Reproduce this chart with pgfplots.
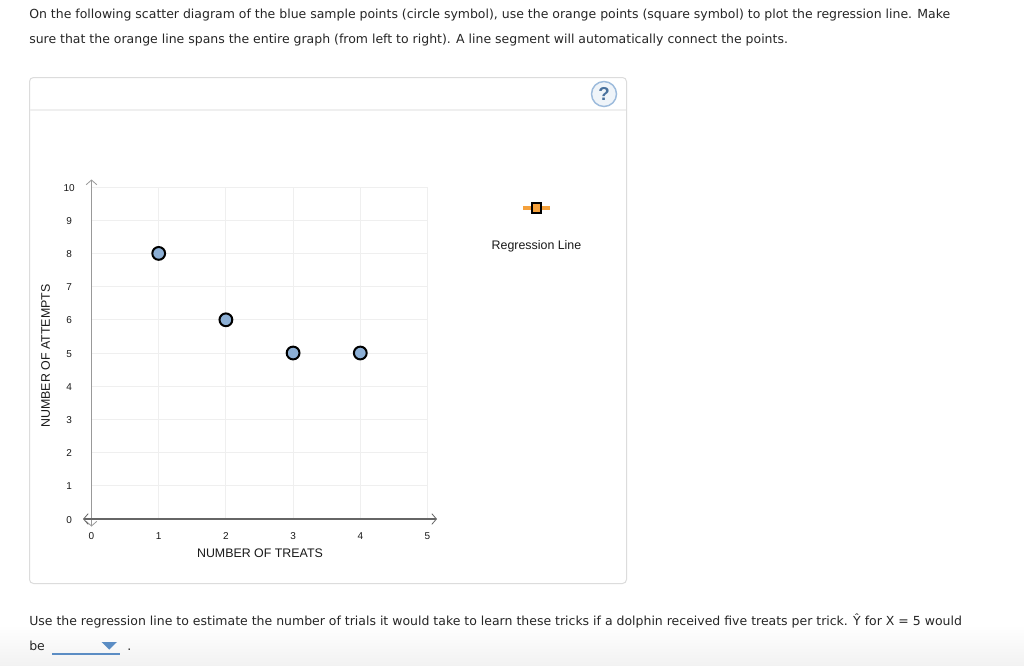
\documentclass[border=0pt]{standalone}
\usepackage{fontspec}
\setmainfont{Liberation Sans}
\newfontfamily\qfont{DejaVu Sans}
\usepackage{pgfplots}
\pgfplotsset{compat=1.18}
\usetikzlibrary{arrows.meta}
\definecolor{panelborder}{HTML}{DCDCDC}
\definecolor{gridgray}{HTML}{EFEFEF}
\definecolor{ptblue}{HTML}{8CAFD5}
\definecolor{regorange}{HTML}{F5A13C}
\definecolor{linkblue}{HTML}{5B8DC4}
\begin{document}
\begin{tikzpicture}[x=0.75pt,y=-0.75pt]
% page in reference pixels
\path[fill=white] (0,0) rectangle (1024,665);
\shade[top color=white,bottom color=black!5] (0,625) rectangle (1024,665);
\draw[panelborder,line width=0.75pt,rounded corners=3pt] (29.5,77.5) rectangle (626.5,583.5);
\draw[gridgray,line width=1pt] (30,110) -- (626,110);
\coordinate (plotorigin) at (91.5,519);
\coordinate (legendsample) at (523,208);

\tikzset{
  qtext/.style={anchor=base west,inner sep=0pt,font=\qfont\fontsize{9.36}{11}\selectfont,text=black!85},
  barb/.style={line width=#1,{Straight Barb[length=3.5pt,width=8pt,line width=0.6pt]}-{Straight Barb[length=3.5pt,width=8pt,line width=0.6pt]}}
}
\node[qtext] at (29,18) {On the following scatter diagram of the blue sample points (circle symbol), use the orange points (square symbol) to plot the regression line. Make};
\node[qtext] at (29,43) {sure that the orange line spans the entire graph (from left to right). A line segment will automatically connect the points.};
\node[qtext] at (29,625) {Use the regression line to estimate the number of trials it would take to learn these tricks if a dolphin received five treats per trick. Ŷ for X = 5 would};
\node[qtext] at (29,650) {be};
\node[qtext] at (127,650) {.};
\draw[linkblue,line width=1pt] (52,654) -- (120,654);
\fill[linkblue] (101.5,642) -- (117,642) -- (109.25,649.5) -- cycle;

% help icon
\draw[linkblue!60,fill=linkblue!10,line width=1.1pt] (604,94) circle[radius=12.5];
\node[font=\fontsize{14}{14}\selectfont\bfseries,text=linkblue!80!black] at (604,94) {?};

\begin{axis}[
    at={(plotorigin)},
    anchor=south west,
    scale only axis,
    width=252pt,
    height=249pt,
    xmin=0, xmax=5,
    ymin=0, ymax=10,
    xtick={0,1,2,3,4,5},
    ytick={0,1,2,3,4,5,6,7,8,9,10},
    grid=major,
    grid style={gridgray,line width=0.75pt},
    axis line style={draw=none},
    major tick length=0pt,
    clip=false,
    /pgf/number format/assume math mode=true,
    tick label style={font=\fontsize{7.5}{9}\selectfont,text=black!90},
    yticklabel style={anchor=center,xshift=-16.75pt,yshift=-0.5pt},
    xticklabel style={anchor=center,yshift=-12.5pt},
]
\addplot[only marks,mark=*,mark size=4.8pt,
    mark options={fill=ptblue,draw=black,line width=1.5pt}]
    coordinates {(1,8) (2,6) (3,5) (4,5)};
\end{axis}

% axis arrows
\draw[black!40,barb=1.1pt] (91.5,526.5) -- (91.5,179.5);
\draw[black!60,barb=0.8pt] (83,519) -- (437,519);

\node[font=\fontsize{9.3}{11}\selectfont,text=black!90] at (260,553) {NUMBER OF TREATS};
\node[font=\fontsize{9.3}{11}\selectfont,text=black!90,rotate=90] at (45.5,356) {NUMBER OF ATTEMPTS};
\node[font=\fontsize{9.3}{11}\selectfont,text=black!90] at (536.5,246) {Regression Line};

% legend sample
\begin{axis}[
    at={(legendsample)},
    anchor=west,
    scale only axis,
    width=20.25pt,
    height=10pt,
    xmin=0, xmax=2,
    ymin=-1, ymax=1,
    hide axis,
    clip=false,
]
\addplot[regorange,line width=3.2pt] coordinates {(0,0) (2,0)};
\addplot[only marks,mark=square*,mark size=3.6pt,
    mark options={fill=regorange,draw=black,line width=1.5pt}]
    coordinates {(1,0)};
\end{axis}
\end{tikzpicture}
\end{document}
